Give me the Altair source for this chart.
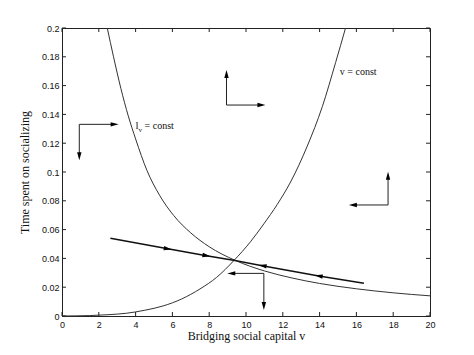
import altair as alt
import pandas as pd

# ---- data ----
x_ticks = [0, 2, 4, 6, 8, 10, 12, 14, 16, 18, 20]
y_ticks = [0, 0.02, 0.04, 0.06, 0.08, 0.1, 0.12, 0.14, 0.16, 0.18, 0.2]

# l_v = const (decreasing curve)
lv_v = [2.46, 2.8, 3.2, 3.6, 4.0, 4.62, 5.3, 6.07, 7.0, 8.0, 9.4, 11.0, 12.5, 14.0, 16.0, 18.0, 20.0]
lv_y = [0.2, 0.18, 0.158, 0.139, 0.123, 0.101, 0.0839, 0.0698, 0.0577, 0.0481, 0.0387, 0.0313, 0.0264, 0.0226, 0.0189, 0.0161, 0.0140]

# v = const (increasing curve)
vc_v = [0, 1.5, 2.5, 3.5, 4.5, 5.5, 6.5, 7.5, 8.4, 9.34, 10.24, 10.97, 11.7, 12.42, 13.33, 14.15, 14.87, 15.41]
vc_y = [0, 0.0003, 0.0009, 0.0019, 0.0040, 0.0070, 0.0118, 0.0188, 0.0268, 0.0385, 0.0515, 0.064, 0.0775, 0.093, 0.118, 0.1455, 0.176, 0.2]

# saddle path trajectory
tr_v = [2.63, 5.75, 7.85, 9.4, 10.88, 13.96, 16.41]
tr_y = [0.054, 0.0467, 0.0419, 0.0385, 0.0349, 0.0278, 0.0227]
trh_v = [5.75, 7.85, 10.9, 13.95]
trh_y = [0.0467, 0.0419, 0.0349, 0.0278]
trh_ang = [10, 10, 190, 190]

# phase-direction arrows (start corner -> head)
ar_x = [0.94, 0.94, 8.94, 8.94, 17.72, 17.72, 10.97, 10.97]
ar_y = [0.1331, 0.1331, 0.1465, 0.1465, 0.0771, 0.0771, 0.0296, 0.0296]
ar_x2 = [2.86, 0.94, 8.94, 10.84, 17.72, 15.81, 9.2, 10.97]
ar_y2 = [0.1331, 0.111, 0.168, 0.1465, 0.0974, 0.0771, 0.0296, 0.007]
ar_ang = [0, 90, 270, 0, 270, 180, 180, 90]

# curve labels
lab_l_v, lab_l_y = 4.0, 0.132
lab_v_v, lab_v_y = 15.1, 0.1692

W, H = 368, 288
ARROW = "M1,0L-1,-0.55L-1,0.55Z"
SERIF = "Liberation Serif"
SANS = "Liberation Sans"

xs = alt.Scale(domain=[0, 20], nice=False)
ys = alt.Scale(domain=[0, 0.2], nice=False)

x_axis = alt.Axis(values=x_ticks, format="d", labelOverlap=False, ticks=False, tickSize=0, grid=False,
                  domainColor="#222", labelFont=SANS, labelFontSize=9, labelColor="#111", labelPadding=4,
                  title="Bridging social capital v", titleFont=SERIF, titleFontSize=12,
                  titleFontWeight="normal", titleColor="#111", titlePadding=1, labelFlush=False)
y_axis = alt.Axis(values=y_ticks, format="~g", labelOverlap=False, ticks=False, tickSize=0, grid=False,
                  domainColor="#222", labelFont=SANS, labelFontSize=9, labelColor="#111", labelPadding=3,
                  title="Time spent on socializing", titleFont=SERIF, titleFontSize=12,
                  titleFontWeight="normal", titleColor="#111", titlePadding=10, labelFlush=False)


def X(field):
    return alt.X(field, type="quantitative", scale=xs, axis=x_axis)


def Y(field):
    return alt.Y(field, type="quantitative", scale=ys, axis=y_axis)


lv_df = pd.DataFrame({"v": lv_v, "y": lv_y})
vc_df = pd.DataFrame({"v": vc_v, "y": vc_y})
tr_df = pd.DataFrame({"v": tr_v, "y": tr_y})
trh_df = pd.DataFrame({"v": trh_v, "y": trh_y, "a": trh_ang})
ar_df = pd.DataFrame({"x": ar_x, "y": ar_y, "x2": ar_x2, "y2": ar_y2, "a": ar_ang})
xt_df = pd.DataFrame({"t": x_ticks})
yt_df = pd.DataFrame({"t": y_ticks})

base_lv = alt.Chart(lv_df).mark_line(color="#333", strokeWidth=1, interpolate="monotone").encode(
    x=X("v"), y=Y("y"))
vc_line = alt.Chart(vc_df).mark_line(color="#333", strokeWidth=1, interpolate="monotone").encode(
    x=X("v"), y=Y("y"))
tr_line = alt.Chart(tr_df).mark_line(color="#111", strokeWidth=1.6).encode(
    x=X("v"), y=Y("y"))
tr_heads = alt.Chart(trh_df).mark_point(shape=ARROW, filled=True, color="#000", size=64, opacity=1).encode(
    x=X("v"), y=Y("y"), angle=alt.Angle("a:Q", scale=None))
ar_rules = alt.Chart(ar_df).mark_rule(color="#222", strokeWidth=1).encode(
    x=X("x"), y=Y("y"), x2="x2:Q", y2="y2:Q")
ar_heads = alt.Chart(ar_df).mark_point(shape=ARROW, filled=True, color="#000", size=64, opacity=1).encode(
    x=X("x2"), y=Y("y2"), angle=alt.Angle("a:Q", scale=None))

# inward ticks on all four sides
tk_bottom = alt.Chart(xt_df).mark_rule(color="#222").encode(
    x=X("t"), y=alt.value(H), y2=alt.value(H - 4))
tk_top = alt.Chart(xt_df).mark_rule(color="#222").encode(
    x=X("t"), y=alt.value(0), y2=alt.value(4))
tk_left = alt.Chart(yt_df).mark_rule(color="#222").encode(
    y=Y("t"), x=alt.value(0), x2=alt.value(4))
tk_right = alt.Chart(yt_df).mark_rule(color="#222").encode(
    y=Y("t"), x=alt.value(W), x2=alt.value(W - 4))

lab_df = pd.DataFrame({"v": [lab_l_v], "y": [lab_l_y]})
l_txt = alt.Chart(lab_df).mark_text(text="l", font=SERIF, fontSize=11, align="left", baseline="middle", color="#111").encode(
    x=X("v"), y=Y("y"))
l_sub = alt.Chart(lab_df).mark_text(text="v", font=SERIF, fontSize=7, align="left", baseline="middle", dx=3, dy=4, color="#111").encode(
    x=X("v"), y=Y("y"))
l_rest = alt.Chart(lab_df).mark_text(text="= const", font=SERIF, fontSize=10, align="left", baseline="middle", dx=9, color="#111").encode(
    x=X("v"), y=Y("y"))
v_df = pd.DataFrame({"v": [lab_v_v], "y": [lab_v_y]})
v_txt = alt.Chart(v_df).mark_text(text="v = const", font=SERIF, fontSize=10, align="left", baseline="middle", color="#111").encode(
    x=X("v"), y=Y("y"))

chart = alt.layer(
    base_lv, vc_line, tr_line, tr_heads, ar_rules, ar_heads,
    tk_bottom, tk_top, tk_left, tk_right, l_txt, l_sub, l_rest, v_txt,
).properties(
    width=W, height=H,
    autosize=alt.AutoSizeParams(type="none"),
    padding={"left": 62, "top": 28, "right": 44, "bottom": 39},
    background="white",
).configure_view(stroke="#222", strokeWidth=1)

chart.save("out.html", embed_options={"renderer": "svg", "actions": False})
